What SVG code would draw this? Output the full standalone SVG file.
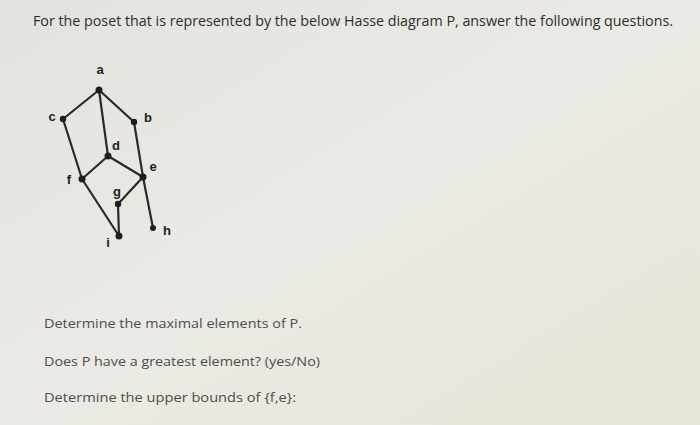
<svg xmlns="http://www.w3.org/2000/svg" width="700" height="425" viewBox="0 0 700 425">
<defs>
<linearGradient id="bg" x1="0" y1="0" x2="1" y2="1">
<stop offset="0" stop-color="#e3e2dd"/>
<stop offset="0.5" stop-color="#ebeae4"/>
<stop offset="1" stop-color="#e8e4d8"/>
</linearGradient>
</defs>
<style>
.t{font-family:"Open Sans","Liberation Sans",sans-serif;font-size:14.5px;fill:#2e2e2e}
.q{font-family:"Open Sans","Liberation Sans",sans-serif;font-size:13.5px;fill:#4e4e4e}
.e{stroke:#2a2a2a;stroke-width:2.2;stroke-linecap:round;fill:none}
.n{fill:#1e1e1e}
.l{font-family:"Liberation Sans",sans-serif;font-size:13px;font-weight:bold;fill:#222}
</style>
<rect width="700" height="425" fill="url(#bg)"/>
<text class="t" x="33" y="26" textLength="640" lengthAdjust="spacingAndGlyphs">For the poset that is represented by the below Hasse diagram P, answer the following questions.</text>
<g id="edges">
<line class="e" x1="99" y1="90" x2="63" y2="119"/>
<line class="e" x1="99" y1="90" x2="134" y2="122"/>
<line class="e" x1="99" y1="90" x2="108" y2="156"/>
<line class="e" x1="63" y1="119" x2="82" y2="179"/>
<line class="e" x1="134" y1="122" x2="143" y2="177"/>
<line class="e" x1="143" y1="177" x2="153" y2="228"/>
<line class="e" x1="108" y1="156" x2="82" y2="179"/>
<line class="e" x1="108" y1="156" x2="143" y2="177"/>
<line class="e" x1="82" y1="179" x2="119" y2="236"/>
<line class="e" x1="143" y1="177" x2="118" y2="204"/>
<line class="e" x1="118" y1="204" x2="119" y2="236"/>
</g>
<g id="node-a"><circle class="n" cx="99" cy="90" r="3.5"/><text class="l" x="100" y="74" text-anchor="middle">a</text></g>
<g id="node-c"><circle class="n" cx="63" cy="119" r="3.2"/><text class="l" x="52" y="121" text-anchor="middle">c</text></g>
<g id="node-b"><circle class="n" cx="134" cy="122" r="3.2"/><text class="l" x="148" y="122" text-anchor="middle">b</text></g>
<g id="node-d"><circle class="n" cx="108" cy="156" r="3.5"/><text class="l" x="116" y="150" text-anchor="middle">d</text></g>
<g id="node-e"><circle class="n" cx="143" cy="177" r="3.5"/><text class="l" x="153" y="171" text-anchor="middle">e</text></g>
<g id="node-f"><circle class="n" cx="82" cy="179" r="3.5"/><text class="l" x="69" y="184" text-anchor="middle">f</text></g>
<g id="node-g"><circle class="n" cx="118" cy="204" r="3.2"/><text class="l" x="117" y="196" text-anchor="middle">g</text></g>
<g id="node-i"><circle class="n" cx="119" cy="236" r="3.5"/><text class="l" x="108" y="247" text-anchor="middle">i</text></g>
<g id="node-h"><circle class="n" cx="153" cy="228" r="3"/><text class="l" x="167" y="235" text-anchor="middle">h</text></g>
<text class="q" x="44" y="328" textLength="258" lengthAdjust="spacingAndGlyphs">Determine the maximal elements of P.</text>
<text class="q" x="44" y="366" textLength="276" lengthAdjust="spacingAndGlyphs">Does P have a greatest element? (yes/No)</text>
<text class="q" x="44" y="402" textLength="252" lengthAdjust="spacingAndGlyphs">Determine the upper bounds of {f,e}:</text>
</svg>
